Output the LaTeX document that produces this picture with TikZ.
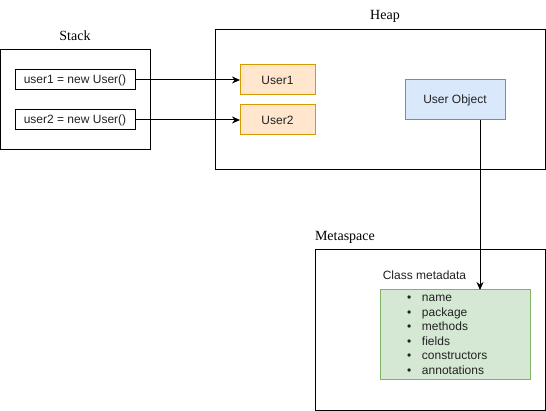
\documentclass[tikz,border=0pt]{standalone}
\usepackage{fontspec}
\setmainfont{Liberation Sans}
\newfontfamily\titlefont{Liberation Serif}
\usetikzlibrary{arrows.meta}
\definecolor{orfill}{HTML}{FFE6CC}
\definecolor{ordraw}{HTML}{D79B00}
\definecolor{blfill}{HTML}{DAE8FC}
\definecolor{bldraw}{HTML}{6C8EBF}
\definecolor{grfill}{HTML}{D5E8D4}
\definecolor{grdraw}{HTML}{82B366}
\definecolor{txt}{HTML}{222222}
\begin{document}
\begin{tikzpicture}[x=1pt,y=-1pt,
  every node/.style={inner sep=0pt,outer sep=0pt,font=\fontsize{12}{14.5}\selectfont,text=txt},
  region/.style={draw=black,line width=1pt,fill=white},
  title/.style={font=\titlefont\fontsize{14}{16}\selectfont,text=black},
  varbox/.style={draw=black,line width=1pt,fill=white,minimum width=120pt,minimum height=20pt},
  refbox/.style={draw=ordraw,fill=orfill,line width=1pt,minimum width=75pt,minimum height=30pt},
  objbox/.style={draw=bldraw,fill=blfill,line width=1pt,minimum width=100pt,minimum height=40pt},
  metabox/.style={draw=grdraw,fill=grfill,line width=1pt,minimum width=150pt,minimum height=90pt,text width=96pt,align=left},
  arr/.style={line width=1pt,-{Stealth[length=8pt,width=7pt]}}]
\useasboundingbox (0,0) rectangle (546,411);
% regions
\node[region,minimum width=150pt,minimum height=100pt] (stack) at (75.5,100) {};
\node[title] (stacklbl) at (75,36) {Stack};
\node[region,minimum width=330pt,minimum height=140pt] (heap) at (380,100) {};
\node[title] (heaplbl) at (385,16) {Heap};
\node[region,minimum width=230pt,minimum height=160pt] (meta) at (430,330) {};
\node[title,anchor=west] (metalbl) at (315,237) {Metaspace};
% stack vars
\node[varbox] (v1) at (75,80) {user1 = new User()};
\node[varbox] (v2) at (75,120) {user2 = new User()};
% heap refs
\node[refbox] (h1) at (277.5,80) {User1};
\node[refbox] (h2) at (277.5,120) {User2};
\node[objbox] (uo) at (455,100) {User Object};
% metaspace
\node (cmlbl) at (424.5,275) {Class metadata};
\node[metabox] (cm) at (455,335) {%
\makebox[15pt][l]{\textbullet}name\\
\makebox[15pt][l]{\textbullet}package\\
\makebox[15pt][l]{\textbullet}methods\\
\makebox[15pt][l]{\textbullet}fields\\
\makebox[15pt][l]{\textbullet}constructors\\
\makebox[15pt][l]{\textbullet}annotations};
% connectors
\draw[arr] (v1.east) -- (h1.west);
\draw[arr] (v2.east) -- (h2.west);
\draw[arr] ([xshift=25pt]uo.south) -- ([xshift=25pt]cm.north);
\end{tikzpicture}
\end{document}
